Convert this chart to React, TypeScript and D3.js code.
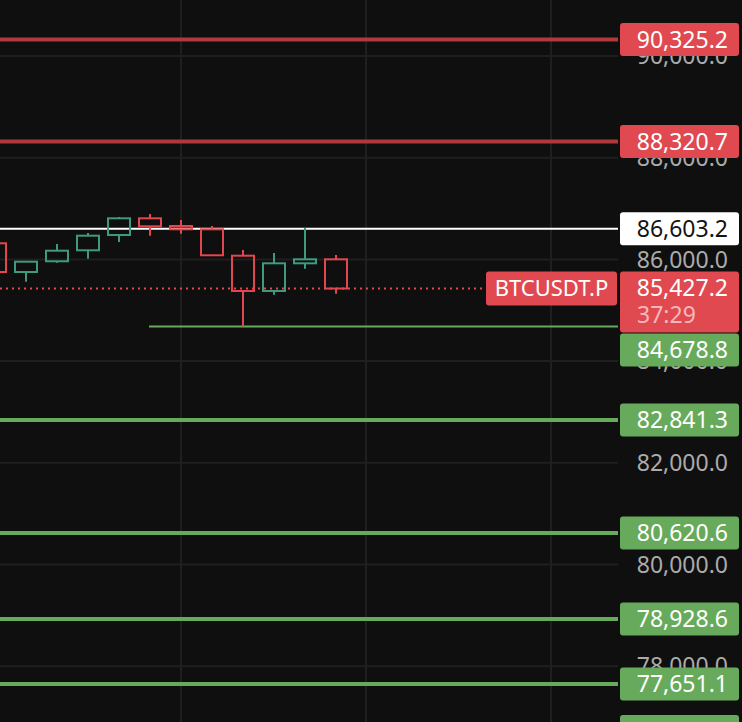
import React from "react";
import * as d3 from "d3";

const W = 742;
const H = 722;

// Candles (index 0 partially cut off at the left edge)
const opens = [86317, 85752, 85963, 86179, 86480, 86808, 86657, 86592, 86073, 85379, 85923, 86002];
const highs = [86317, 85955, 86303, 86519, 86834, 86893, 86775, 86657, 86185, 86126, 86618, 86086];
const lows = [85752, 85562, 85935, 86014, 86342, 86466, 86505, 86081, 84678.8, 85306, 85817, 85326];
const closes = [85752, 85955, 86171, 86466, 86808, 86651, 86592, 86081, 85379, 85923, 86002, 85427.2];

const priceTicks = [78000, 80000, 82000, 84000, 86000, 88000, 90000];
const resistanceLevels = [90325.2, 88320.7];
const supportLevels = [82841.3, 80620.6, 78928.6, 77651.1, 76716.0];
const lowRayLevel = 84678.8;
const lowRayStartIndex = 5;
const markLevel = 86603.2;
const lastPrice = 85427.2;
const symbol = "BTCUSDT.P";
const countdown = "37:29";
const timeGridIndex = [6, 12, 18];

const fmt = (v: number) => d3.format(",.1f")(v);

export default function App() {
  const plotRight = 618;
  const y = d3.scaleLinear().domain([78000, 90000]).range([666.2, 56]);
  const x = d3.scaleLinear().domain([0, 11]).range([-5, 336]);
  const gx = d3.scaleLinear().domain([6, 18]).range([181, 551]);
  const bodyW = 22;
  const font = "'Noto Sans', sans-serif";
  const fs = 23;
  const green = "#3f9a80";
  const red = "#e3474e";
  const labelRed = "#e0494f";
  const labelGreen = "#68aa5b";
  const lineRed = "#b0393d";
  const lineGreen = "#68aa5b";
  const labelX = 620;
  const labelW = 119;
  const textX = 728;
  const labelH = 33;

  const label = (v: number, fill: string, textFill: string, key: string, cy?: number) => {
    const c = cy ?? y(v);
    const showText = c + 8 < H;
    return (
      <g key={key}>
        <rect x={labelX} y={c - labelH / 2} width={labelW} height={labelH} rx={3} fill={fill} />
        {showText && (
          <text x={textX} y={c} dy="0.36em" textAnchor="end" fill={textFill} fontSize={fs} fontFamily={font}>
            {fmt(v)}
          </text>
        )}
      </g>
    );
  };

  const priceTop = y(lastPrice) - 17;
  const priceH = 61;

  return (
    <div style={{ position: "fixed", left: 0, top: 0 }}>
      <svg width={W} height={H} style={{ display: "block" }}>
        <rect width={W} height={H} fill="#0f0f0f" />
        {/* grid */}
        {priceTicks.map((t) => (
          <line key={"h" + t} x1={0} x2={plotRight} y1={y(t)} y2={y(t)} stroke="#1f1f1f" strokeWidth={2} />
        ))}
        {timeGridIndex.map((i) => (
          <line key={"v" + i} x1={gx(i)} x2={gx(i)} y1={0} y2={H} stroke="#1f1f1f" strokeWidth={2} />
        ))}
        {/* tick labels */}
        {priceTicks.map((t) => (
          <text key={"t" + t} x={textX} y={y(t)} dy="0.36em" textAnchor="end" fill="#ababab" fontSize={fs} fontFamily={font}>
            {fmt(t)}
          </text>
        ))}
        {/* level lines */}
        {resistanceLevels.map((v) => (
          <line key={"r" + v} x1={0} x2={plotRight} y1={y(v)} y2={y(v)} stroke={lineRed} strokeWidth={4} />
        ))}
        {supportLevels.map((v) => (
          <line key={"s" + v} x1={0} x2={plotRight} y1={y(v)} y2={y(v)} stroke={lineGreen} strokeWidth={4} />
        ))}
        <line x1={0} x2={plotRight} y1={y(markLevel)} y2={y(markLevel)} stroke="#ffffff" strokeWidth={2} />
        <line x1={x(lowRayStartIndex) - 1} x2={plotRight} y1={y(lowRayLevel)} y2={y(lowRayLevel)} stroke={lineGreen} strokeWidth={2} />
        <line x1={0} x2={485} y1={y(lastPrice)} y2={y(lastPrice)} stroke={red} strokeWidth={2} strokeDasharray="2 4" />
        {/* candles */}
        {opens.map((o, i) => {
          const c = closes[i];
          const up = c >= o;
          const col = up ? green : red;
          const top = y(Math.max(o, c));
          const bot = y(Math.min(o, c));
          const cx = x(i);
          return (
            <g key={"c" + i}>
              <line x1={cx} x2={cx} y1={y(highs[i])} y2={top} stroke={col} strokeWidth={2} />
              <line x1={cx} x2={cx} y1={bot} y2={y(lows[i])} stroke={col} strokeWidth={2} />
              <rect x={cx - bodyW / 2} y={top} width={bodyW} height={Math.max(bot - top, 1)} fill="none" stroke={col} strokeWidth={2} />
            </g>
          );
        })}
        {/* labels */}
        {resistanceLevels.map((v) => label(v, labelRed, "#ffffff", "lr" + v))}
        {supportLevels.map((v) => label(v, labelGreen, "#ffffff", "ls" + v))}
        {label(markLevel, "#ffffff", "#131313", "mark")}
        {label(lowRayLevel, labelGreen, "#ffffff", "low", priceTop + priceH + 1 + labelH / 2)}
        {/* last price */}
        <rect x={486} y={priceTop} width={131} height={34} rx={3} fill={labelRed} />
        <text x={551.5} y={y(lastPrice)} dy="0.36em" textAnchor="middle" fill="#ffffff" fontSize={22} fontFamily={font}>
          {symbol}
        </text>
        <rect x={labelX} y={priceTop} width={labelW} height={priceH} rx={3} fill={labelRed} />
        <text x={textX} y={y(lastPrice) - 1} dy="0.36em" textAnchor="end" fill="#ffffff" fontSize={fs} fontFamily={font}>
          {fmt(lastPrice)}
        </text>
        <text x={637} y={y(lastPrice) + 26} dy="0.36em" textAnchor="start" fill="#f6b7ba" fontSize={fs} fontFamily={font}>
          {countdown}
        </text>
      </svg>
    </div>
  );
}
